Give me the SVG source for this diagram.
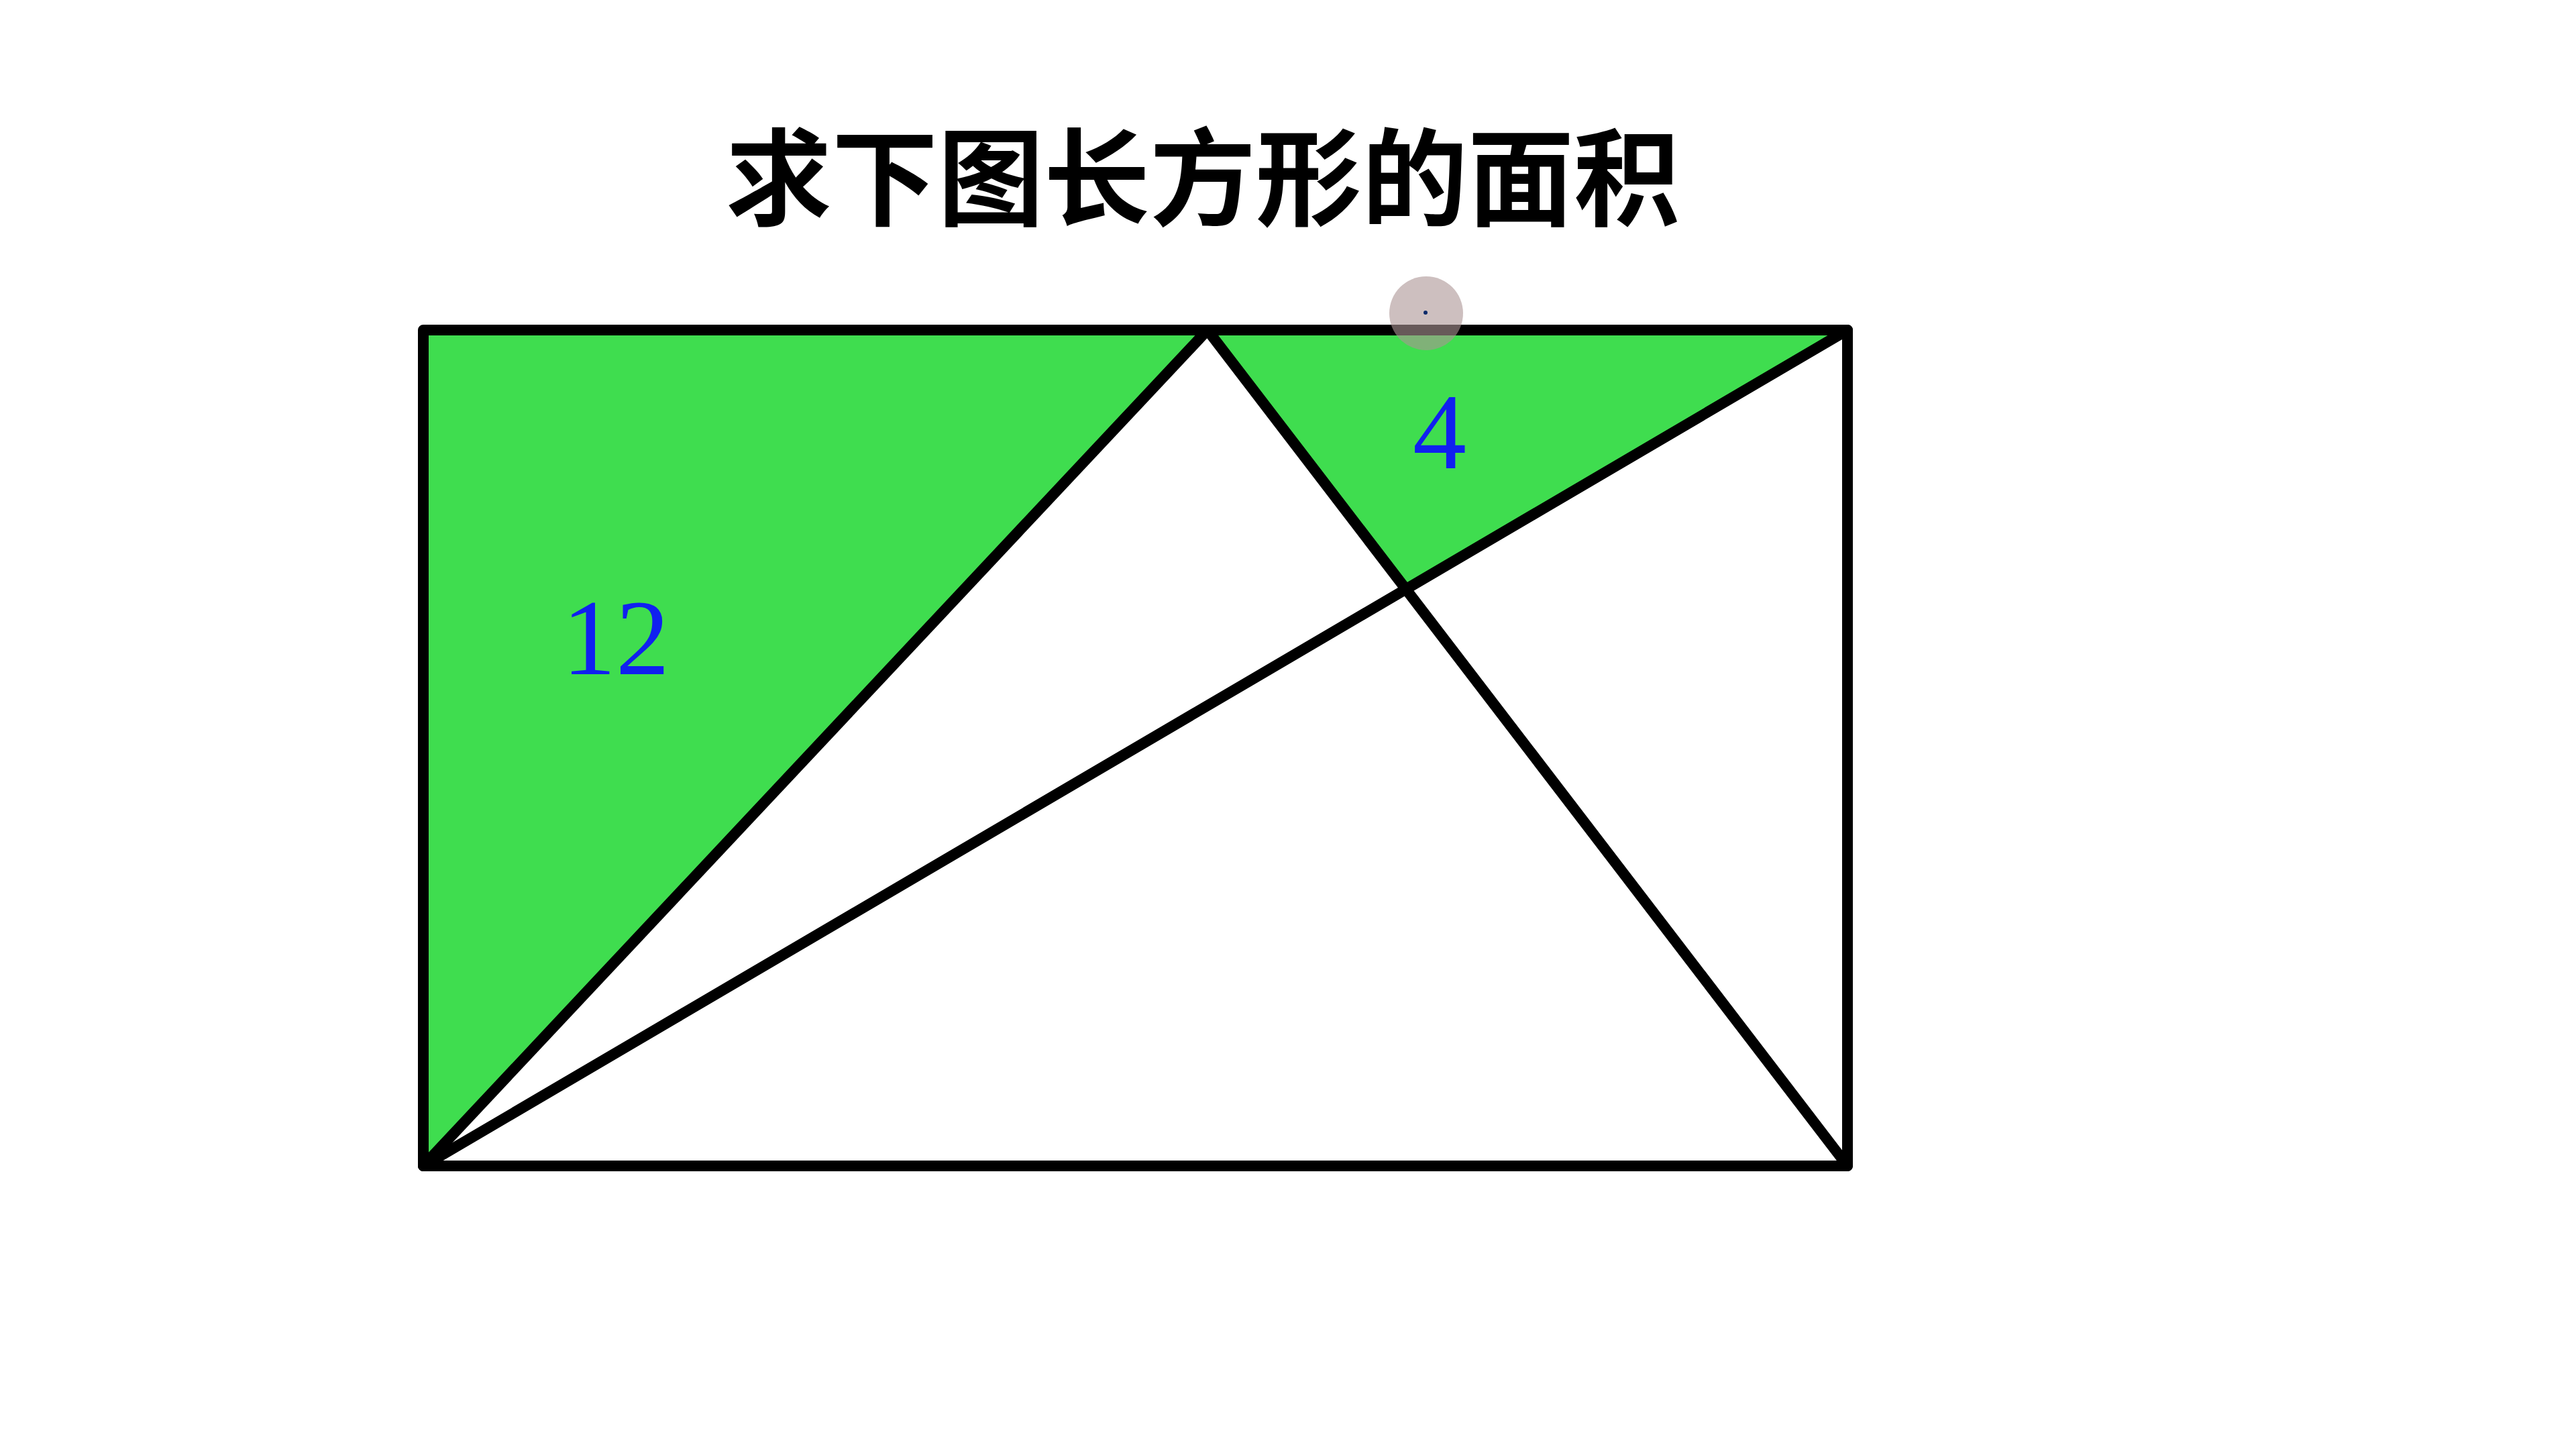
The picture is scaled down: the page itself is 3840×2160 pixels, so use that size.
<svg xmlns="http://www.w3.org/2000/svg" width="3840" height="2160" viewBox="0 0 3840 2160">
<style>
.title{font-family:"Noto Sans CJK SC","Noto Sans CJK TC",sans-serif;font-weight:700;font-size:158px;fill:#000}
.num{font-family:"Liberation Serif","DejaVu Serif",serif;font-size:160px;fill:#1020f0}
.ln{stroke:#000;stroke-width:16;stroke-linecap:round;stroke-linejoin:round;fill:none}
.green{fill:#3fdd4f;stroke:none}
</style>
<rect width="3840" height="2160" fill="#fff"/>
<g id="title"><text class="title" x="1793" y="324" text-anchor="middle">求下图长方形的面积</text></g>
<g id="regions">
<polygon id="region-12" class="green" points="631,492 1800,492 631,1738"/>
<polygon id="region-4" class="green" points="1800,492 2754,492 2096,878"/>
</g>
<g id="connectors">
<rect class="ln" x="631" y="492" width="2123" height="1246"/>
<line class="ln" x1="631" y1="1738" x2="1800" y2="492"/>
<line class="ln" x1="1800" y1="492" x2="2754" y2="1738"/>
<line class="ln" x1="631" y1="1738" x2="2754" y2="492"/>
</g>
<g id="labels">
<text class="num" x="918" y="1005" text-anchor="middle">12</text>
<text class="num" x="2146" y="698" text-anchor="middle">4</text>
</g>
<g id="cursor">
<circle cx="2126" cy="467" r="55" fill="#ac9494" fill-opacity="0.6"/>
<circle cx="2125" cy="466" r="3" fill="#0a2a6a"/>
</g>
</svg>
